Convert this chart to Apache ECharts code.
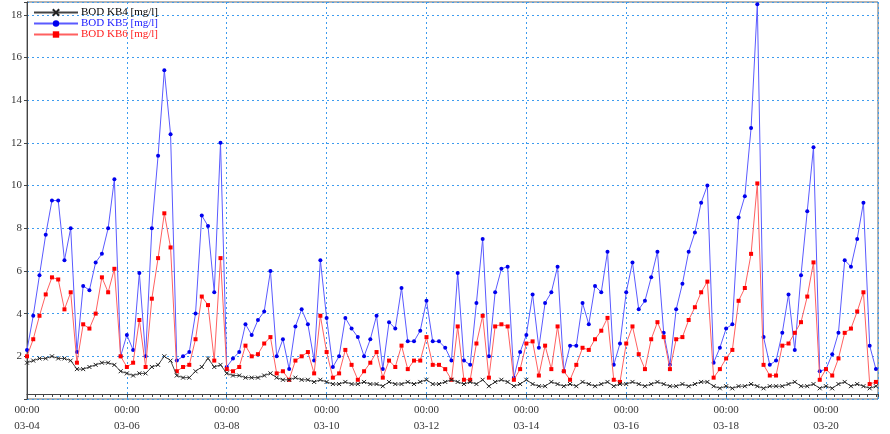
<!DOCTYPE html>
<html>
<head>
<meta charset="utf-8">
<script src="https://cdn.jsdelivr.net/npm/echarts@6/dist/echarts.min.js"></script>
<style>html,body{margin:0;padding:0;background:#fff}#chart{width:890px;height:434px}</style>
</head>
<body>
<div id="chart"></div>
<script>
// one value every 3 hours, starting 03-04 00:00
var startTime = new Date(2024, 2, 4, 0, 0).getTime();
var stepMs = 3 * 3600 * 1000;
var seriesNames = ['BOD KB4 [mg/l]', 'BOD KB5 [mg/l]', 'BOD KB6 [mg/l]'];

var kb4 = [
    1.7, 1.8, 1.9, 1.9, 2.0, 1.9, 1.9, 1.8,
    1.4, 1.4, 1.5, 1.6, 1.7, 1.7, 1.6, 1.3,
    1.2, 1.1, 1.2, 1.2, 1.5, 1.6, 2.0, 1.8,
    1.1, 1.0, 1.0, 1.3, 1.5, 1.9, 1.5, 1.6,
    1.2, 1.1, 1.1, 1.0, 1.0, 1.0, 1.1, 1.2,
    1.0, 0.9, 0.9, 1.0, 0.9, 0.9, 0.8, 0.9,
    0.8, 0.7, 0.7, 0.8, 0.7, 0.7, 0.8, 0.7,
    0.7, 0.6, 0.8, 0.7, 0.7, 0.8, 0.7, 0.8,
    0.9, 0.7, 0.7, 0.8, 0.9, 0.8, 0.7, 0.8,
    0.7, 0.9, 0.6, 0.8, 0.9, 0.8, 0.6, 0.7,
    0.9, 0.7, 0.6, 0.6, 0.8, 0.7, 0.6, 0.7,
    0.6, 0.8, 0.7, 0.6, 0.7, 0.8, 0.6, 0.7,
    0.7, 0.8, 0.7, 0.6, 0.7, 0.8, 0.7, 0.6,
    0.6, 0.7, 0.6, 0.7, 0.8, 0.8, 0.6, 0.5,
    0.6, 0.5, 0.6, 0.6, 0.7, 0.6, 0.5, 0.6,
    0.6, 0.6, 0.7, 0.8, 0.6, 0.6, 0.7, 0.5,
    0.6, 0.5, 0.7, 0.8, 0.6, 0.7, 0.6, 0.5,
    0.6
];
var kb5 = [
    2.3, 3.9, 5.8, 7.7, 9.3, 9.3, 6.5, 8.0,
    2.2, 5.3, 5.1, 6.4, 6.8, 8.0, 10.3, 2.0,
    3.0, 2.3, 5.9, 2.0, 8.0, 11.4, 15.4, 12.4,
    1.8, 2.0, 2.2, 4.0, 8.6, 8.1, 5.0, 12.0,
    1.5, 1.9, 2.2, 3.5, 3.0, 3.7, 4.1, 6.0,
    2.0, 2.8, 1.4, 3.4, 4.2, 3.5, 1.8, 6.5,
    3.8, 1.5, 2.0, 3.8, 3.3, 2.9, 2.0, 2.8,
    3.9, 1.4, 3.6, 3.3, 5.2, 2.7, 2.7, 3.2,
    4.6, 2.7, 2.7, 2.4, 1.8, 5.9, 1.8, 1.6,
    4.5, 7.5, 2.0, 5.0, 6.1, 6.2, 1.0, 2.2,
    3.0, 4.9, 2.4, 4.5, 5.0, 6.2, 1.3, 2.5,
    2.5, 4.5, 3.5, 5.3, 5.0, 6.9, 1.6, 2.6,
    5.0, 6.4, 4.2, 4.6, 5.7, 6.9, 3.1, 1.6,
    4.2, 5.4, 6.9, 7.8, 9.2, 10.0, 1.7, 2.4,
    3.3, 3.5, 8.5, 9.5, 12.7, 18.5, 2.9, 1.6,
    1.8, 3.1, 4.9, 2.3, 5.8, 8.8, 11.8, 1.3,
    1.4, 2.1, 3.1, 6.5, 6.2, 7.5, 9.2, 2.5,
    1.4
];
var kb6 = [
    2.0, 2.8, 3.9, 4.9, 5.7, 5.6, 4.2, 5.0,
    1.7, 3.5, 3.3, 4.0, 5.7, 5.0, 6.1, 2.0,
    1.5, 1.7, 3.7, 1.5, 4.7, 6.6, 8.7, 7.1,
    1.3, 1.5, 1.6, 2.8, 4.8, 4.4, 1.8, 6.6,
    1.4, 1.3, 1.5, 2.5, 2.0, 2.1, 2.6, 2.9,
    1.2, 1.3, 0.9, 1.8, 2.0, 2.2, 1.2, 3.9,
    2.2, 1.0, 1.2, 2.3, 1.6, 0.9, 1.3, 1.7,
    2.2, 1.0, 1.8, 1.5, 2.5, 1.4, 1.8, 1.8,
    2.9, 1.6, 1.6, 1.4, 0.9, 3.4, 0.9, 0.9,
    2.6, 3.9, 1.0, 3.4, 3.5, 3.4, 0.9, 1.4,
    2.6, 2.7, 1.1, 2.5, 1.4, 3.4, 1.3, 0.9,
    1.6, 2.4, 2.3, 2.8, 3.2, 3.8, 0.9, 0.8,
    2.6, 3.4, 2.1, 1.4, 2.8, 3.6, 2.9, 1.4,
    2.8, 2.9, 3.7, 4.3, 5.0, 5.5, 1.0, 1.4,
    1.9, 2.3, 4.6, 5.2, 6.8, 10.1, 1.6, 1.1,
    1.1, 2.5, 2.6, 3.1, 3.6, 4.8, 6.4, 0.9,
    1.4, 1.1, 1.9, 3.1, 3.3, 4.1, 5.0, 0.7,
    0.8
];
var yTicks = [2, 4, 6, 8, 10, 12, 14, 16, 18];

function toPairs(values) {
    return values.map(function (v, i) { return [startTime + i * stepMs, v]; });
}

var serif = 'Liberation Serif';
var gridLine = { show: true, lineStyle: { color: '#3d9cf0', type: [2, 3], width: 1 } };
var dayMs = 24 * 3600 * 1000;

var option = {
    animation: false,
    grid: { left: 27, right: 12, top: 2, bottom: 34, show: true, borderColor: '#666', borderWidth: 1 },
    legend: {
        orient: 'vertical', left: 28, top: 2, itemGap: 0, itemWidth: 44, itemHeight: 8,
        textStyle: { fontFamily: serif, fontSize: 11, padding: [0, 0, 0, -2] },
        data: [
            { name: seriesNames[0], textStyle: { color: '#000' } },
            { name: seriesNames[1], textStyle: { color: '#2020ff' } },
            { name: seriesNames[2], textStyle: { color: '#ff2020' } }
        ]
    },
    xAxis: {
        type: 'value',
        min: startTime,
        max: startTime + 17 * dayMs + 3600 * 1000,
        interval: 2 * dayMs,
        offset: -5,
        axisLine: { lineStyle: { color: '#444' } },
        axisTick: { show: true, length: 3, lineStyle: { color: '#444' } },
        minorTick: { show: true, splitNumber: 12, length: 3, lineStyle: { color: '#444' } },
        splitLine: gridLine,
        axisLabel: {
            fontFamily: serif, fontSize: 11, color: '#333', lineHeight: 16, showMaxLabel: false,
            formatter: function (v) {
                var d = new Date(v);
                var p = function (n) { return (n < 10 ? '0' : '') + n; };
                return p(d.getHours()) + ':' + p(d.getMinutes()) + '\n' + p(d.getMonth() + 1) + '-' + p(d.getDate());
            }
        }
    },
    yAxis: {
        type: 'value', min: 0, max: 18.6, interval: 2,
        axisLine: { show: true, lineStyle: { color: '#444' } },
        axisTick: { show: true, length: 3, lineStyle: { color: '#444' } },
        splitLine: gridLine,
        axisLabel: {
            fontFamily: serif, fontSize: 11, color: '#333', margin: 5,
            formatter: function (v) { return yTicks.indexOf(v) >= 0 ? String(v) : ''; }
        }
    },
    series: [
        {
            name: seriesNames[0], type: 'line', data: toPairs(kb4),
            symbol: 'path://M0,0L10,10M10,0L0,10', symbolSize: 4,
            itemStyle: { color: '#222', borderColor: '#222', borderWidth: 1 },
            lineStyle: { color: '#444', width: 1 }, z: 3
        },
        {
            name: seriesNames[1], type: 'line', data: toPairs(kb5),
            symbol: 'circle', symbolSize: 4,
            itemStyle: { color: '#0000ee' },
            lineStyle: { color: '#5a5aff', width: 1 }, z: 1
        },
        {
            name: seriesNames[2], type: 'line', data: toPairs(kb6),
            symbol: 'rect', symbolSize: 4,
            itemStyle: { color: '#ff0000' },
            lineStyle: { color: '#ff6060', width: 1 }, z: 2
        }
    ]
};

echarts.init(document.getElementById('chart')).setOption(option);
</script>
</body>
</html>
